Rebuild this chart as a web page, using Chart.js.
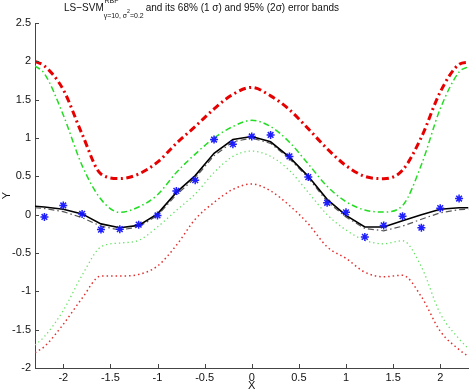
<!DOCTYPE html>
<html>
<head>
<meta charset="utf-8">
<script src="https://cdn.jsdelivr.net/npm/chart.js@4.4.0/dist/chart.umd.min.js"></script>
<style>
  body { margin: 0; background: #fff; }
  #wrap { width: 474px; height: 391px; }
</style>
</head>
<body>
<div id="wrap"><canvas id="svmChart" width="474" height="391"></canvas></div>
<script>
// x grid the curves were read at
const xGrid = [-2.3, -2.2, -2.0, -1.8, -1.6, -1.4, -1.2, -1.0, -0.8, -0.6, -0.4, -0.2, 0,
               0.2, 0.4, 0.6, 0.8, 1.0, 1.2, 1.4, 1.6, 1.8, 2.0, 2.2, 2.3];

// LS-SVM fit (black) and the dash-dot gray curve
const fitY  = [0.11, 0.10, 0.07, 0.01, -0.12, -0.17, -0.14, 0.01, 0.29, 0.51, 0.80, 0.98, 1.02,
               0.95, 0.75, 0.50, 0.20, -0.01, -0.16, -0.16, -0.08, 0.00, 0.07, 0.09, 0.09];
const grayY = [0.09, 0.08, 0.04, -0.04, -0.15, -0.20, -0.16, -0.01, 0.26, 0.48, 0.77, 0.95, 1.00,
               0.93, 0.73, 0.48, 0.17, -0.03, -0.18, -0.21, -0.15, -0.06, 0.025, 0.065, 0.07];

// 68% band (green) and 95% band (red)
const upper1 = [1.94, 1.84, 1.30, 0.64, 0.20, 0.03, 0.10, 0.26, 0.55, 0.79, 1.00, 1.15, 1.23,
                1.15, 0.945, 0.66, 0.37, 0.17, 0.06, 0.035, 0.12, 0.65, 1.38, 1.86, 1.93];
const lower1 = [-1.70, -1.59, -1.25, -0.79, -0.42, -0.37, -0.335, -0.16, 0.056, 0.27, 0.55, 0.76, 0.83,
                0.76, 0.577, 0.29, 0.0, -0.2, -0.335, -0.38, -0.34, -0.68, -1.29, -1.62, -1.75];
const upper2 = [2.00, 1.94, 1.63, 1.05, 0.53, 0.47, 0.53, 0.685, 0.93, 1.15, 1.38, 1.57, 1.66,
                1.55, 1.37, 1.12, 0.86, 0.64, 0.50, 0.47, 0.58, 1.01, 1.60, 1.96, 1.99];
const lower2 = [-1.80, -1.72, -1.43, -1.09, -0.80, -0.80, -0.78, -0.67, -0.40, -0.06, 0.16, 0.33, 0.40,
                0.31, 0.12, -0.12, -0.42, -0.57, -0.75, -0.81, -0.79, -1.07, -1.52, -1.76, -1.85];

// training points (blue asterisks)
const pointX = [-2.2, -2.0, -1.8, -1.6, -1.4, -1.2, -1.0, -0.8, -0.6, -0.4, -0.2, 0,
                0.2, 0.4, 0.6, 0.8, 1.0, 1.2, 1.4, 1.6, 1.8, 2.0, 2.2];
const pointY = [-0.03, 0.12, 0.01, -0.195, -0.19, -0.13, -0.01, 0.31, 0.45, 0.98, 0.92, 1.02,
                1.04, 0.76, 0.49, 0.155, 0.03, -0.29, -0.14, -0.02, -0.17, 0.085, 0.21];

// tick labels
const xTicks = [-2, -1.5, -1, -0.5, 0, 0.5, 1, 1.5, 2];
const yTicks = [-2, -1.5, -1, -0.5, 0, 0.5, 1, 1.5, 2, 2.5];

const FONT = "'Liberation Sans', Arial, Helvetica, sans-serif";

function pts(xs, ys) {
  return xs.map((x, i) => ({ x: x, y: ys[i] }));
}

// title pieces: [text, font size, baseline]
const titleParts = [
  ['LS\u2212SVM', 11.5, 11],
  ['\u03B3=10, \u03C3', 8, 18],
  ['2', 6, 13],
  ['=0.2 ', 8, 18],
  ['and its 68% (1 \u03C3) and 95% (2\u03C3) error bands', 11.5, 11]
];

// MATLAB style ticks pointing into the plot, plus the title with sub/superscripts
const matlabBits = {
  id: 'matlabBits',
  afterDraw(chart) {
    const ctx = chart.ctx;
    const xs = chart.scales.x, ys = chart.scales.y;
    const area = chart.chartArea;
    ctx.save();
    ctx.strokeStyle = '#444';
    ctx.lineWidth = 1;
    ctx.beginPath();
    xTicks.forEach(v => {
      const px = Math.round(xs.getPixelForValue(v)) + 0.5;
      ctx.moveTo(px, area.bottom);
      ctx.lineTo(px, area.bottom - 4);
    });
    yTicks.forEach(v => {
      const py = Math.round(ys.getPixelForValue(v)) + 0.5;
      ctx.moveTo(area.left, py);
      ctx.lineTo(area.left + 4, py);
    });
    ctx.stroke();

    // title, squeezed to the width it has in the figure (x 64..339)
    ctx.fillStyle = '#111';
    ctx.textBaseline = 'alphabetic';
    ctx.textAlign = 'left';
    let total = 0;
    titleParts.forEach(p => { ctx.font = p[1] + 'px ' + FONT; total += ctx.measureText(p[0]).width; });
    const k = 275 / total;
    ctx.translate(64, 0);
    ctx.scale(k, 1);
    let x = 0;
    titleParts.forEach((p, i) => {
      ctx.font = p[1] + 'px ' + FONT;
      ctx.fillText(p[0], x, p[2]);
      if (i === 0) {
        const w = ctx.measureText(p[0]).width;
        ctx.font = '8px ' + FONT;
        ctx.fillText('RBF', w + 1, 3);
        ctx.font = p[1] + 'px ' + FONT;
      }
      x += ctx.measureText(p[0]).width;
    });
    ctx.restore();
  }
};

new Chart(document.getElementById('svmChart'), {
  type: 'line',
  data: {
    datasets: [
      {
        label: 'data',
        data: pts(pointX, pointY),
        showLine: false,
        pointStyle: 'star',
        pointRadius: 4,
        pointBorderWidth: 1.5,
        pointBorderColor: 'rgba(20,20,255,0.95)',
        pointBackgroundColor: 'rgba(20,20,255,0.95)',
        order: 0
      },
      {
        label: 'fit',
        data: pts(xGrid, fitY),
        borderColor: '#000',
        borderWidth: 1.6,
        pointRadius: 0,
        tension: 0,
        order: 1
      },
      {
        label: 'gray',
        data: pts(xGrid, grayY),
        borderColor: '#555',
        borderWidth: 1.2,
        borderDash: [6, 3, 1.5, 3],
        pointRadius: 0,
        tension: 0,
        order: 2
      },
      {
        label: '+1 sigma',
        data: pts(xGrid, upper1),
        borderColor: '#22dd22',
        borderWidth: 1.5,
        borderDash: [6, 3, 1.5, 3],
        pointRadius: 0,
        cubicInterpolationMode: 'monotone',
        order: 3
      },
      {
        label: '-1 sigma',
        data: pts(xGrid, lower1),
        borderColor: '#66e066',
        borderWidth: 1.3,
        borderDash: [1.3, 3],
        pointRadius: 0,
        cubicInterpolationMode: 'monotone',
        order: 4
      },
      {
        label: '+2 sigma',
        data: pts(xGrid, upper2),
        borderColor: '#e60000',
        borderWidth: 3,
        borderDash: [7, 3.5, 2, 3.5],
        pointRadius: 0,
        cubicInterpolationMode: 'monotone',
        order: 5
      },
      {
        label: '-2 sigma',
        data: pts(xGrid, lower2),
        borderColor: '#e03030',
        borderWidth: 1.5,
        borderDash: [1.5, 3],
        pointRadius: 0,
        cubicInterpolationMode: 'monotone',
        order: 6
      }
    ]
  },
  options: {
    responsive: false,
    animation: false,
    events: [],
    layout: { padding: { top: 23, right: 1, left: 0, bottom: 0 } },
    plugins: {
      legend: { display: false },
      tooltip: { enabled: false },
      title: { display: false }
    },
    scales: {
      x: {
        type: 'linear',
        min: -2.3,
        max: 2.3,
        afterBuildTicks: s => { s.ticks = xTicks.map(v => ({ value: v })); },
        afterFit: s => { s.height = 23; },
        grid: { display: false, drawTicks: false },
        border: { display: true, color: '#444', width: 1 },
        ticks: {
          padding: 3,
          color: '#111',
          font: { family: FONT, size: 11 },
          maxRotation: 0,
          callback: v => String(v)
        },
        title: {
          display: true,
          text: 'X',
          color: '#111',
          font: { family: FONT, size: 11 },
          padding: { top: 0, bottom: -2 }
        }
      },
      y: {
        type: 'linear',
        min: -2,
        max: 2.5,
        afterBuildTicks: s => { s.ticks = yTicks.map(v => ({ value: v })); },
        afterFit: s => { s.width = 35; },
        grid: { display: false, drawTicks: false },
        border: { display: true, color: '#444', width: 1 },
        ticks: {
          padding: 4,
          color: '#111',
          font: { family: FONT, size: 11 },
          callback: v => String(v)
        },
        title: {
          display: true,
          text: 'Y',
          color: '#111',
          font: { family: FONT, size: 11 },
          padding: { top: 0, bottom: 0 }
        }
      }
    }
  },
  plugins: [matlabBits]
});
</script>
</body>
</html>
